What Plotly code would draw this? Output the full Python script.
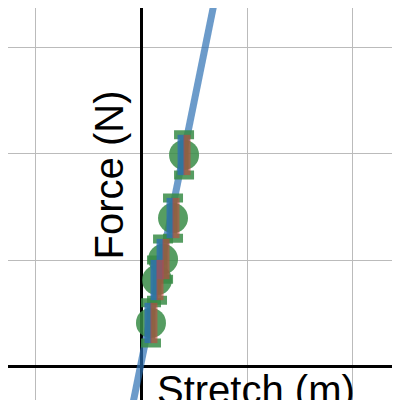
import plotly.graph_objects as go

stretch = [0.094, 0.151, 0.208, 0.302, 0.406]
force = [0.406, 0.811, 1.009, 1.396, 1.991]
force_err = [0.19, 0.19, 0.19, 0.19, 0.19]
line_x = [-0.2, 0.8]
slope, intercept = 4.93, 0.023
line_y = [slope * v + intercept for v in line_x]
off = 0.028

fig = go.Figure()
fig.add_trace(go.Scatter(x=line_x, y=line_y, mode="lines",
                         line=dict(color="rgba(45,112,179,0.7)", width=7)))
fig.add_trace(go.Scatter(x=stretch, y=force, mode="markers",
                         marker=dict(size=30, color="rgba(56,140,70,0.85)"),
                         error_y=dict(type="data", array=force_err, color="rgba(56,140,70,0.85)",
                                      thickness=9, width=10)))
fig.add_trace(go.Scatter(x=[v - off for v in stretch], y=force, mode="markers",
                         marker=dict(size=1, opacity=0),
                         error_y=dict(type="data", array=force_err, color="rgba(45,112,179,0.8)",
                                      thickness=7, width=0)))
fig.add_trace(go.Scatter(x=[v + off for v in stretch], y=force, mode="markers",
                         marker=dict(size=1, opacity=0),
                         error_y=dict(type="data", array=force_err, color="rgba(199,68,64,0.6)",
                                      thickness=7, width=0)))

axis = dict(showgrid=True, gridcolor="#bbbbbb", gridwidth=1, zeroline=True,
            zerolinecolor="black", zerolinewidth=3, showticklabels=False, dtick=1)
fig.update_xaxes(range=[-1.255, 2.519], **axis)
fig.update_yaxes(range=[-0.396, 3.377], **axis)
fig.add_annotation(x=0.13, y=-0.23, xref="x", yref="y", text="Stretch (m)", showarrow=False,
                   xanchor="left", font=dict(family="Liberation Sans", size=40, color="black"))
fig.add_annotation(x=-0.3, y=1.8, xref="x", yref="y", text="Force (N)", showarrow=False,
                   textangle=-90, font=dict(family="Liberation Sans", size=40, color="black"))
fig.update_layout(width=400, height=400, margin=dict(l=0, r=0, t=0, b=0, autoexpand=False),
                  plot_bgcolor="white", paper_bgcolor="white", showlegend=False)
fig.write_html("out.html")
